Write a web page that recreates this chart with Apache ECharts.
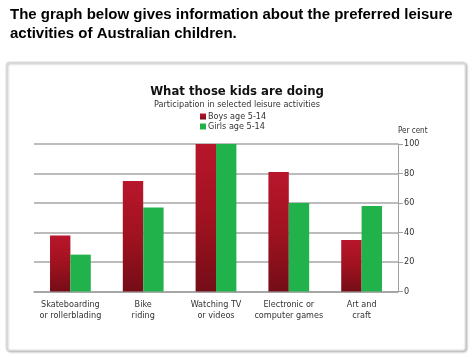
<!DOCTYPE html>
<html>
<head>
<meta charset="utf-8">
<script src="https://cdn.jsdelivr.net/npm/echarts@6/dist/echarts.min.js"></script>
<style>
html,body{margin:0;padding:0;background:#fff;}
#chart{width:474px;height:357px;}
</style>
</head>
<body>
<div id="chart"></div>
<script>
const categories = ['Skateboarding\nor rollerblading', 'Bike\nriding', 'Watching TV\nor videos', 'Electronic or\ncomputer games', 'Art and\ncraft'];
const boys = [38, 75, 100, 81, 35];
const girls = [25, 57, 100, 60, 58];
const yTicks = [0, 20, 40, 60, 80, 100];

const chart = echarts.init(document.getElementById('chart'));
const narrow = '"Liberation Sans Narrow", "DejaVu Sans Condensed", "Liberation Sans", Arial, sans-serif';
chart.setOption({
  animation: false,
  backgroundColor: '#fff',
  title: [
    {
      text: 'The graph below gives information about the preferred leisure\nactivities of Australian children.',
      left: 5, top: 0,
      textStyle: {fontFamily: '"Liberation Sans", Arial, sans-serif', fontWeight: 'bold', fontSize: 15, lineHeight: 19, color: '#000'}
    },
    {
      text: 'What those kids are doing',
      subtext: 'Participation in selected leisure activities',
      left: 232, top: 80, textAlign: 'center', itemGap: 2,
      textStyle: {fontFamily: narrow, fontWeight: 'bold', fontSize: 13, color: '#111'},
      subtextStyle: {fontFamily: narrow, fontSize: 9, color: '#333'}
    }
  ],
  graphic: [{
    type: 'rect', z: -10, silent: true,
    shape: {x: 6.5, y: 62.5, width: 459, height: 288, r: 3},
    style: {fill: '#fff', stroke: '#d8d8d8', lineWidth: 1.5, shadowBlur: 2, shadowOffsetX: 1, shadowOffsetY: 1, shadowColor: 'rgba(0,0,0,0.25)'}
  }],
  legend: {
    orient: 'vertical', left: 195, top: 107, itemWidth: 6, itemHeight: 6, itemGap: 1,
    icon: 'rect',
    textStyle: {fontFamily: narrow, fontSize: 9, color: '#333', padding: [0, 0, 0, -3]},
    data: ['Boys age 5-14', 'Girls age 5-14']
  },
  grid: {left: 34, right: 76, top: 144, bottom: 65.5},
  xAxis: {
    type: 'category', data: categories,
    axisLine: {lineStyle: {color: '#a0a0a0', width: 1.5}},
    axisTick: {show: false},
    axisLabel: {fontFamily: narrow, fontSize: 9, lineHeight: 11, color: '#333', margin: 8, interval: 0}
  },
  yAxis: {
    type: 'value', position: 'right', min: 0, max: 100, interval: 20,
    name: 'Per cent', nameLocation: 'end', nameGap: 9,
    nameTextStyle: {fontFamily: narrow, fontSize: 8, color: '#333', align: 'left', padding: [0, 0, 0, 0]},
    axisLine: {show: true, lineStyle: {color: '#a0a0a0', width: 1}},
    axisTick: {show: true, length: 5, lineStyle: {color: '#a0a0a0'}},
    axisLabel: {fontFamily: narrow, fontSize: 9, color: '#333', margin: 6,
      formatter: v => yTicks.includes(v) ? String(v) : ''},
    splitLine: {lineStyle: {color: '#a6a6a6', width: 1.5}}
  },
  series: [
    {
      name: 'Boys age 5-14', type: 'bar', data: boys, barWidth: '28%', barGap: '0%',
      itemStyle: {color: new echarts.graphic.LinearGradient(0, 0, 0, 1, [
        {offset: 0, color: '#b8162c'}, {offset: 0.5, color: '#a0121f'}, {offset: 1, color: '#740d18'}])}
    },
    {
      name: 'Girls age 5-14', type: 'bar', data: girls, barWidth: '28%',
      itemStyle: {color: '#22b24c'}
    }
  ]
});
</script>
</body>
</html>
